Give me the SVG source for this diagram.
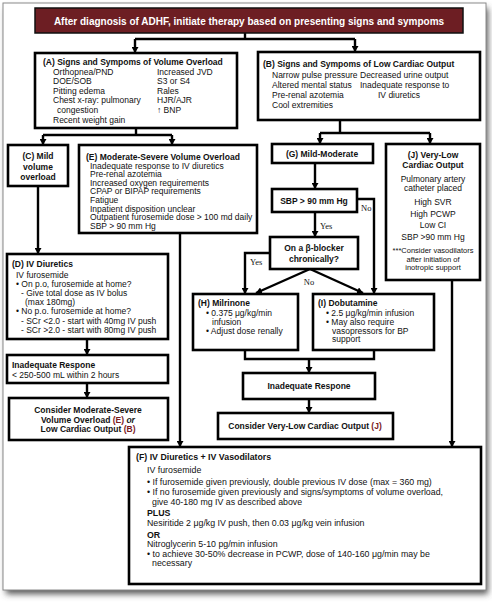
<svg xmlns="http://www.w3.org/2000/svg" width="492" height="602" viewBox="0 0 492 602">
<defs>
<filter id="shadow" x="-5%" y="-5%" width="110%" height="110%">
<feGaussianBlur stdDeviation="3"/>
</filter>
<marker id="arr" markerWidth="6" markerHeight="7" refX="6" refY="3.5" orient="auto" markerUnits="userSpaceOnUse">
<path d="M0,0 L6,3.5 L0,7 z" fill="#000"/>
</marker>
<style>
text{font-family:"Liberation Sans",Arial,Helvetica,sans-serif;font-size:8.5px;fill:#111}
.b{font-weight:bold}
.c{text-anchor:middle}
.t{font-size:10px;font-weight:bold;fill:#fff}
.s{font-family:"Liberation Serif","Times New Roman",serif;font-size:8.5px}
.r{fill:#7a1a1e}
.sm{font-size:7.5px}
.f{font-size:8.8px}
.box{fill:#fff;stroke:#000;stroke-width:2.6}
.ln{fill:none;stroke:#000;stroke-width:2.4}
</style>
</defs>
<rect x="6" y="8" width="482" height="586" fill="#555" filter="url(#shadow)"/>
<rect x="3" y="3" width="483" height="587" fill="#fff" stroke="#8a8a8a" stroke-width="1"/>

<g id="connectors">
<polyline class="ln" points="245,33 245,39"/>
<polyline class="ln" points="135,39 355,39"/>
<line class="ln" x1="135" y1="39" x2="135" y2="53" marker-end="url(#arr)"/>
<line class="ln" x1="355" y1="39" x2="355" y2="52" marker-end="url(#arr)"/>
<polyline class="ln" points="136,127 136,135"/>
<polyline class="ln" points="43,135 172,135"/>
<line class="ln" x1="43" y1="135" x2="43" y2="145" marker-end="url(#arr)"/>
<line class="ln" x1="172" y1="135" x2="172" y2="145" marker-end="url(#arr)"/>
<polyline class="ln" points="340,120 340,133"/>
<polyline class="ln" points="320,133 430,133"/>
<line class="ln" x1="320" y1="133" x2="320" y2="144" marker-end="url(#arr)"/>
<line class="ln" x1="430" y1="133" x2="430" y2="144" marker-end="url(#arr)"/>
<line class="ln" x1="38" y1="186" x2="38" y2="254" marker-end="url(#arr)"/>
<line class="ln" x1="87" y1="339" x2="87" y2="355" marker-end="url(#arr)"/>
<line class="ln" x1="87" y1="383" x2="87" y2="398" marker-end="url(#arr)"/>
<line class="ln" x1="180" y1="233" x2="180" y2="447" marker-end="url(#arr)"/>
<line class="ln" x1="315" y1="163" x2="315" y2="189" marker-end="url(#arr)"/>
<line class="ln" x1="315" y1="212" x2="315" y2="237" marker-end="url(#arr)"/>
<polyline class="ln" points="357,199 374,199 374,294" marker-end="url(#arr)"/>
<polyline class="ln" points="270,253 245,253 245,294" marker-end="url(#arr)"/>
<line class="ln" x1="310" y1="269" x2="256" y2="293" marker-end="url(#arr)"/>
<line class="ln" x1="310" y1="269" x2="363" y2="293" marker-end="url(#arr)"/>
<polyline class="ln" points="245,350 245,359 374,359 374,350"/>
<line class="ln" x1="309" y1="359" x2="309" y2="373" marker-end="url(#arr)"/>
<line class="ln" x1="309" y1="399" x2="309" y2="413" marker-end="url(#arr)"/>
<line class="ln" x1="452" y1="280" x2="452" y2="447" marker-end="url(#arr)"/>
<text class="s" x="320" y="229">Yes</text>
<text class="s" x="361" y="211">No</text>
<text class="s" x="250" y="265">Yes</text>
<text class="s c" x="309" y="285">No</text>
</g>

<g id="title">
<rect x="35" y="8" width="428" height="25" fill="#6d1e23" stroke="#111" stroke-width="1.5"/>
<text class="t c" x="249" y="24.5">After diagnosis of ADHF, initiate therapy based on presenting signs and sympoms</text>
</g>

<g id="nodeA">
<rect class="box" x="35" y="53" width="202" height="75"/>
<text class="b" x="43" y="65">(A) Signs and Sympoms of Volume Overload</text>
<text x="53" y="74.5">Orthopnea/PND</text>
<text x="53" y="84">DOE/SOB</text>
<text x="53" y="93.8">Pitting edema</text>
<text x="53" y="103.4">Chest x-ray: pulmonary</text>
<text x="57" y="113">congestion</text>
<text x="53" y="122.6">Recent weight gain</text>
<text x="157" y="74.5">Increased JVD</text>
<text x="157" y="84">S3 or S4</text>
<text x="157" y="93.8">Rales</text>
<text x="157" y="103.4">HJR/AJR</text>
<text x="157" y="113">↑ BNP</text>
</g>

<g id="nodeB">
<rect class="box" x="258" y="52" width="222" height="68"/>
<text class="b" x="263" y="67">(B) Signs and Sympoms of Low Cardiac Output</text>
<text x="272" y="78">Narrow pulse pressure</text>
<text x="272" y="88">Altered mental status</text>
<text x="272" y="98">Pre-renal azotemia</text>
<text x="272" y="108">Cool extremities</text>
<text x="360" y="78">Decreased urine output</text>
<text x="360" y="88">Inadequate response to</text>
<text x="378" y="98">IV diuretics</text>
</g>

<g id="nodeC">
<rect class="box" x="8" y="145" width="60" height="41"/>
<text class="b c" x="38" y="159">(C) Mild</text>
<text class="b c" x="38" y="169.5">volume</text>
<text class="b c" x="38" y="180">overload</text>
</g>

<g id="nodeE">
<rect class="box" x="79" y="145" width="178" height="88"/>
<text class="b" x="86" y="160">(E) Moderate-Severe Volume Overload</text>
<text x="90" y="168.5">Inadequate response to IV diuretics</text>
<text x="90" y="177">Pre-renal azotemia</text>
<text x="90" y="185.7">Increased oxygen requirements</text>
<text x="90" y="194.4">CPAP or BIPAP requirements</text>
<text x="90" y="203">Fatigue</text>
<text x="90" y="211.7">Inpatient disposition unclear</text>
<text x="90" y="220.4">Outpatient furosemide dose &gt; 100 md daily</text>
<text x="90" y="229">SBP &gt; 90 mm Hg</text>
</g>

<g id="nodeD">
<rect class="box" x="7" y="254" width="161" height="85"/>
<text class="b" x="12" y="267">(D) IV Diuretics</text>
<text x="16" y="278">IV furosemide</text>
<text x="16" y="287">• On p.o, furosemide at home?</text>
<text x="21" y="296">- Give total dose as IV bolus</text>
<text x="25" y="305">(max 180mg)</text>
<text x="16" y="314">• No p.o. furosemide at home?</text>
<text x="21" y="324">- SCr &lt;2.0 - start with 40mg IV push</text>
<text x="21" y="333">- SCr &gt;2.0 - start with 80mg IV push</text>
</g>

<g id="nodeInadequate1">
<rect class="box" x="7" y="355" width="161" height="28"/>
<text class="b" x="12" y="367.5">Inadequate Respone</text>
<text x="12" y="378">&lt; 250-500 mL within 2 hours</text>
</g>

<g id="nodeConsider1">
<rect class="box" x="9" y="398" width="159" height="42"/>
<text class="b c" x="88" y="413">Consider Moderate-Severe</text>
<text class="b c" x="88" y="422.5">Volume Overload <tspan class="r">(E)</tspan> <tspan font-style="italic">or</tspan></text>
<text class="b c" x="88" y="432">Low Cardiac Output <tspan class="r">(B)</tspan></text>
</g>

<g id="nodeG">
<rect class="box" x="272" y="144" width="101" height="19"/>
<text class="b c" x="322" y="157">(G) Mild-Moderate</text>
</g>

<g id="nodeSBP">
<rect class="box" x="272" y="189" width="85" height="23"/>
<text class="b c" x="314" y="204">SBP &gt; 90 mm Hg</text>
</g>

<g id="nodeBeta">
<rect class="box" x="270" y="237" width="88" height="32"/>
<text class="b c" x="314" y="251">On a β-blocker</text>
<text class="b c" x="314" y="261.5">chronically?</text>
</g>

<g id="nodeH">
<rect class="box" x="193" y="294" width="105" height="56"/>
<text class="b" x="198" y="306">(H) Milrinone</text>
<text x="206" y="316">• 0.375 μg/kg/min</text>
<text x="212" y="325">infusion</text>
<text x="206" y="334">• Adjust dose renally</text>
</g>

<g id="nodeI">
<rect class="box" x="313" y="294" width="121" height="56"/>
<text class="b" x="318" y="306">(I) Dobutamine</text>
<text x="326" y="316">• 2.5 μg/kg/min infusion</text>
<text x="326" y="325">• May also require</text>
<text x="332" y="333.5">vasopressors for BP</text>
<text x="332" y="342">support</text>
</g>

<g id="nodeInadequate2">
<rect class="box" x="243" y="373" width="132" height="26"/>
<text class="b c" x="309" y="389">Inadequate Respone</text>
</g>

<g id="nodeConsider2">
<rect class="box" x="218" y="413" width="175" height="26"/>
<text class="b c" x="305" y="429">Consider Very-Low Cardiac Output <tspan class="r">(J)</tspan></text>
</g>

<g id="nodeJ">
<rect class="box" x="386" y="144" width="94" height="136"/>
<text class="b c" x="433" y="158">(J) Very-Low</text>
<text class="b c" x="433" y="168">Cardiac Output</text>
<text class="c" x="433" y="182">Pulmonary artery</text>
<text class="c" x="433" y="190.5">catheter placed</text>
<text class="c" x="433" y="205">High SVR</text>
<text class="c" x="433" y="216.5">High PCWP</text>
<text class="c" x="433" y="228">Low CI</text>
<text class="c" x="433" y="240">SBP &gt;90 mm Hg</text>
<text class="c sm" x="433" y="253">***Consider vasodilators</text>
<text class="c sm" x="433" y="261.5">after initiation of</text>
<text class="c sm" x="433" y="270">inotropic support</text>
</g>

<g id="nodeF">
<rect class="box" x="129" y="447" width="352" height="137"/>
<text class="b f" x="136" y="460">(F) IV Diuretics + IV Vasodilators</text>
<text class="f" x="147" y="473">IV furosemide</text>
<text class="f" x="147" y="484.5">• If furosemide given previously, double previous IV dose (max = 360 mg)</text>
<text class="f" x="147" y="495">• If no furosemide given previously and signs/symptoms of volume overload,</text>
<text class="f" x="152" y="504.5">give 40-180 mg IV as described above</text>
<text class="b f" x="147" y="516">PLUS</text>
<text class="f" x="147" y="525.5">Nesiritide 2 μg/kg IV push, then 0.03 μg/kg vein infusion</text>
<text class="b f" x="147" y="537.5">OR</text>
<text class="f" x="147" y="547">Nitroglycerin 5-10 pg/min infusion</text>
<text class="f" x="147" y="556.5">• to achieve 30-50% decrease in PCWP, dose of 140-160 μg/min may be</text>
<text class="f" x="152" y="566">necessary</text>
</g>
</svg>
